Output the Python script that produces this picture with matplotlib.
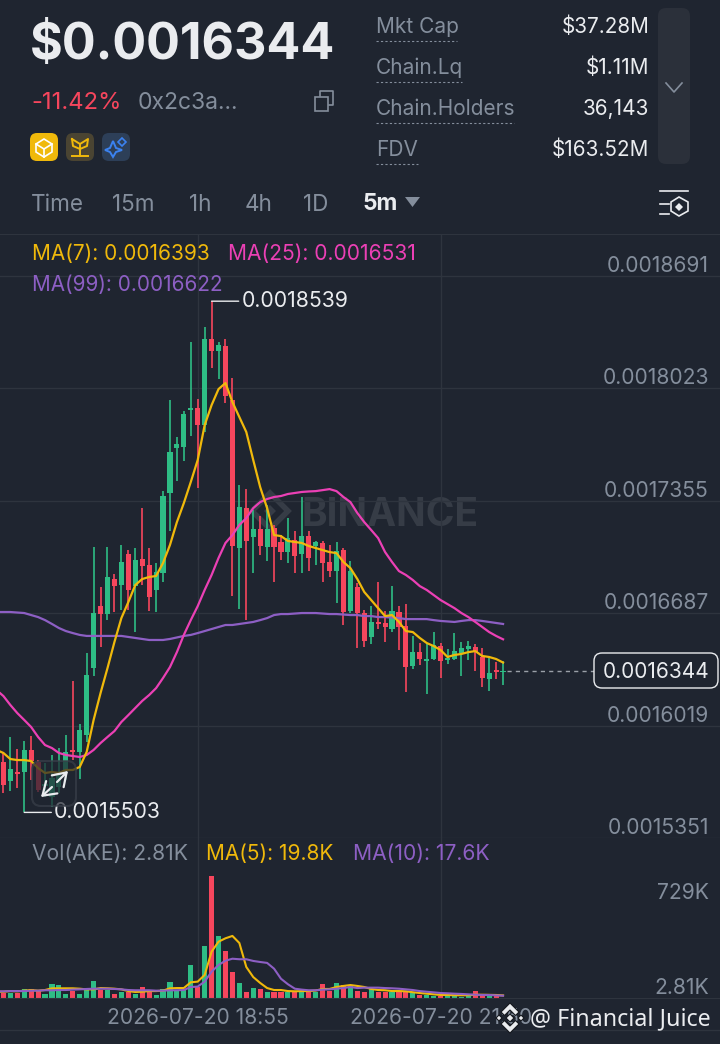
import matplotlib
matplotlib.use('Agg')
import numpy as np
import matplotlib.pyplot as plt
from matplotlib.patches import FancyBboxPatch, Polygon, Rectangle

plt.rcParams['font.family'] = ['Inter', 'DejaVu Sans']

# prices are in units of 1e-7 USD, 5m candles
opens = [15802,15689,15743,15743,15874,15802,15660,15594,15654,15755,
         15874,15862,15963,16360,16728,16681,16889,16853,17037,16847,
         17008,16972,16824,16925,17400,17667,17673,17892,17904,17803,
         18314,18243,18273,17952,17073,17310,17138,17186,17079,17192,
         17109,17049,17120,17037,17144,17085,17103,16990,16936,17061,
         16699,16841,16687,16545,16634,16628,16592,16693,16610,16372,
         16455,16402,16414,16491,16408,16414,16449,16473,16485,16426,
         16295,16349,16336]
highs = [15856,15951,15879,15927,15957,15814,15796,15844,15885,15963,
         16283,16028,16449,17079,16841,17079,16919,17091,17061,17073,
         17310,17073,16984,17411,17952,17732,17886,18296,17958,18385,
         18539,18296,18314,18083,17447,17423,17298,17263,17328,17210,
         17150,17251,17174,17376,17174,17115,17115,17091,17109,17073,
         16996,16865,16705,16728,16871,16699,16847,16728,16740,16551,
         16509,16509,16574,16509,16473,16568,16515,16521,16503,16479,
         16420,16396,16402]
lows = [15618,15630,15648,15503,15695,15624,15594,15535,15618,15695,
        15814,15701,15921,16313,16485,16645,16693,16705,16705,16574,
        16853,16699,16693,16871,17174,17471,17590,17738,17429,17762,
        18142,18077,17934,16788,16711,16645,16925,17032,16996,16871,
        17002,16984,16925,16925,16936,16972,16871,16901,16746,16616,
        16687,16479,16485,16503,16592,16515,16574,16467,16218,16354,
        16378,16206,16408,16301,16384,16408,16313,16408,16343,16248,
        16224,16295,16260]
closes = [15666,15761,15731,15874,15808,15636,15672,15707,15737,15862,
          15862,15992,16319,16687,16681,16901,16847,16990,16824,17002,
          16966,16782,16930,17382,17643,17691,17869,17904,17803,18314,
          18243,18279,17976,17085,17316,17115,17186,17085,17186,17079,
          17049,17132,17026,17144,17014,17109,16984,16936,17055,16693,
          16936,16687,16521,16634,16622,16604,16699,16604,16366,16455,
          16414,16414,16497,16402,16420,16461,16479,16491,16455,16301,
          16331,16337,16344]

# the moving averages start one candle earlier, off the left edge
ma7 = [15874,15856,15820,15814,15814,15808,15766,15737,15743,15737,15755,
       15755,15773,15862,16052,16212,16360,16515,16657,16752,16853,
       16889,16901,16907,16984,17091,17227,17340,17465,17596,17803,
       17922,18017,18053,17940,17851,17762,17596,17435,17310,17150,
       17144,17115,17109,17103,17085,17073,17061,17049,17043,16990,
       16954,16889,16812,16764,16716,16669,16675,16634,16580,16574,
       16539,16509,16491,16467,16426,16438,16444,16455,16461,16432,
       16426,16414,16393]
ma25 = [16230,16194,16141,16093,16052,16010,15951,15903,15885,15856,15844,
        15838,15832,15844,15874,15915,15951,15986,16040,16081,16123,
        16165,16200,16241,16301,16366,16455,16557,16645,16728,16824,
        16913,17014,17103,17150,17210,17251,17310,17346,17364,17376,
        17382,17394,17400,17406,17409,17411,17417,17423,17411,17376,
        17346,17281,17227,17180,17132,17049,16990,16936,16913,16883,
        16847,16824,16794,16764,16740,16716,16687,16663,16634,16604,
        16574,16551,16531]
ma99 = [16693,16693,16693,16690,16687,16675,16663,16645,16622,16598,16580,
        16568,16557,16551,16551,16551,16551,16551,16551,16545,16539,
        16533,16527,16527,16527,16533,16542,16551,16557,16568,16580,
        16592,16604,16616,16616,16622,16628,16634,16645,16657,16675,
        16681,16681,16684,16687,16687,16687,16684,16681,16681,16678,
        16675,16675,16669,16669,16663,16663,16660,16657,16651,16651,
        16651,16651,16645,16640,16637,16634,16640,16645,16645,16640,
        16634,16628,16622]

# volume in thousands
volumes = [38,38,38,69,69,53,31,107,99,27,
           53,31,61,130,61,61,31,46,46,31,
           84,53,23,69,122,53,61,252,84,397,
           932,474,359,199,115,46,76,69,46,46,
           46,46,53,46,46,46,107,53,115,99,
           92,53,46,69,46,46,46,46,46,38,
           23,23,19,19,15,15,11,15,53,23,
           15,15,2.81]
vol_ma5 = [48,48,53,51,56,61,56,61,74,74,74,
           74,71,66,66,76,74,71,66,53,46,
           48,53,53,56,74,76,76,120,125,176,
           354,430,456,474,420,237,160,115,76,61,
           61,53,51,53,53,57,69,69,84,92,
           99,92,84,69,61,59,53,53,51,44,
           38,33,28,23,23,21,21,21,25,25,
           24,23,19.8]
vol_ma10 = [51,51,53,53,53,56,56,59,59,61,61,
            64,66,69,71,71,71,69,66,61,59,
            59,59,56,56,59,59,61,84,87,125,
            201,252,285,300,296,296,283,275,268,224,
            147,105,71,64,59,59,64,66,71,76,
            84,76,79,79,79,76,74,71,66,61,
            53,48,43,38,36,33,31,28,25,23,
            23,20,17.6]

price_ticks = [15351,16019,16687,17355,18023,18691]
vol_ticks = [2.81,729]
vol_tick_labels = ['2.81K','729K']
date_ticks = [28,63]
date_labels = ['2026-07-20 18:55','2026-07-20 21:50']

stats_names = ['Mkt Cap','Chain.Lq','Chain.Holders','FDV']
stats_values = ['$37.28M','$1.11M','36,143','$163.52M']
periods = ['Time','15m','1h','4h','1D']

BG = '#1f2530'
GRID = '#2e343e'
GRAY = '#848e9c'
LIGHT = '#eaecef'
GREEN = '#2ebd85'
RED = '#f6465d'
YELLOW = '#f0b90b'
PINK = '#eb40b5'
PURPLE = '#8d5fc4'
MARK = '#363c46'

n = len(closes)
x = np.arange(n)
x_ma = np.arange(-1, n)
xlim = (-0.49, 103.26)
colors = [GREEN if c >= o else RED for o, c in zip(opens, closes)]
W, H = 720, 1044


def px_rect(left, top, right, bottom):
    return [left/W, 1-bottom/H, (right-left)/W, (bottom-top)/H]


def diamond(cx, cy, r):
    return [(cx, cy-r), (cx+r, cy), (cx, cy+r), (cx-r, cy)]


fig = plt.figure(figsize=(7.2, 10.44), dpi=100, facecolor=BG)

# layer in pixel coordinates for the app chrome around the chart
ui = fig.add_axes([0, 0, 1, 1], zorder=3)
ui.set_xlim(0, W)
ui.set_ylim(H, 0)
ui.axis('off')
ui.patch.set_alpha(0)

# price panel
ax = fig.add_axes(px_rect(0, 234, W, 838), zorder=1)
ax.set_facecolor('none')
ax.set_xlim(*xlim)
ax.set_ylim(15351, 18938)
ax.text(301, 516, 'BINANCE', transform=ui.transData, fontsize=28, fontweight='bold',
        color=MARK, va='center', ha='left', zorder=0.5)
ax.add_patch(Polygon(diamond(270, 511, 18), closed=True, transform=ui.transData,
                     fc='none', ec=MARK, lw=4, zorder=0.5))
ax.add_patch(Polygon(diamond(270, 511, 6), closed=True, transform=ui.transData,
                     fc=MARK, ec='none', zorder=0.5))
ax.vlines(x, lows, highs, colors=colors, lw=1.2, zorder=2)
ax.bar(x, np.abs(np.array(closes)-np.array(opens)), bottom=np.minimum(opens, closes),
       width=0.74, color=colors, linewidth=0, zorder=2)
ax.plot(x_ma, ma99, color=PURPLE, lw=1.6, zorder=3)
ax.plot(x_ma, ma25, color=PINK, lw=1.6, zorder=3)
ax.plot(x_ma, ma7, color=YELLOW, lw=1.6, zorder=4)
ax.plot([72.5, 85.1], [closes[-1], closes[-1]], color='#9aa0a8', lw=1, ls=(0, (3, 3)), zorder=2)

ax.set_xticks(date_ticks)
ax.set_xticklabels([])
ax.yaxis.tick_right()
ax.set_yticks(price_ticks)
ax.set_yticklabels([f'{v/1e7:.7f}' for v in price_ticks], fontsize=15.2, color=GRAY)
ax.tick_params(axis='both', length=0)
ax.tick_params(axis='y', pad=-8)
for lab in ax.get_yticklabels():
    lab.set_ha('right')
    lab.set_va('bottom')
ax.grid(True, color=GRID, lw=1)
ax.set_axisbelow(True)
for side, sp in ax.spines.items():
    sp.set_visible(side == 'top')
    sp.set_color(GRID)

i_hi = int(np.argmax(highs))
i_lo = int(np.argmin(lows))
ax.annotate(f'{highs[i_hi]/1e7:.7f}', xy=(i_hi, highs[i_hi]), xytext=(21.5, 0),
            textcoords='offset points', va='center', ha='left', color=LIGHT, fontsize=15.3,
            arrowprops=dict(arrowstyle='-', color=LIGHT, lw=1, shrinkA=0, shrinkB=0), zorder=5)
ax.annotate(f'{lows[i_lo]/1e7:.7f}', xy=(i_lo, lows[i_lo]), xytext=(21.5, 0),
            textcoords='offset points', va='center', ha='left', color=LIGHT, fontsize=15.3,
            arrowprops=dict(arrowstyle='-', color=LIGHT, lw=1, shrinkA=0, shrinkB=0), zorder=5)

# volume panel
axv = fig.add_axes(px_rect(0, 838, W, 998), zorder=1)
axv.set_facecolor('none')
axv.set_xlim(*xlim)
axv.set_ylim(0, 1222)
axv.bar(x, volumes, width=0.74, color=colors, linewidth=0, zorder=2)
axv.plot(x_ma, vol_ma5, color=YELLOW, lw=1.5, zorder=3)
axv.plot(x_ma, vol_ma10, color=PURPLE, lw=1.5, zorder=4)
axv.set_xticks(date_ticks)
axv.set_xticklabels(date_labels, fontsize=15.1, color=GRAY)
axv.yaxis.tick_right()
axv.set_yticks(vol_ticks)
axv.set_yticklabels(vol_tick_labels, fontsize=15.2, color=GRAY)
axv.tick_params(axis='both', length=0)
axv.tick_params(axis='x', pad=7)
axv.tick_params(axis='y', pad=-8)
for lab in axv.get_yticklabels():
    lab.set_ha('right')
    lab.set_va('bottom')
axv.grid(True, axis='x', color=GRID, lw=1)
axv.set_axisbelow(True)
for side, sp in axv.spines.items():
    sp.set_visible(side == 'bottom')
    sp.set_color(GRID)

# header
ui.text(29.5, 46, '$0.0016344', fontsize=36.2, fontweight='bold', color=LIGHT, va='center')
ui.text(31, 103, '-11.42%', fontsize=17.2, color=RED, va='center')
ui.text(138, 103, '0x2c3a...', fontsize=16.5, color=GRAY, va='center')
ui.add_patch(Rectangle((315, 97), 13, 14, fc='none', ec=GRAY, lw=1.2))
ui.plot([320, 320, 333, 333, 329], [96, 91, 91, 105, 105], color=GRAY, lw=1.2)

# little badges
badges = [(30, YELLOW), (66, '#4a4432'), (102, '#2d3f58')]
for bx, bc in badges:
    ui.add_patch(FancyBboxPatch((bx+4, 137), 20, 20, boxstyle='round,pad=4,rounding_size=7',
                                fc=bc, ec='none'))
ui.add_patch(Polygon([(44, 139), (52, 144), (52, 152), (44, 157), (36, 152), (36, 144)],
                     closed=True, fc='none', ec='white', lw=1.2))
ui.plot([36, 44, 52], [144, 149, 144], color='white', lw=1.2)
ui.plot([44, 44], [149, 157], color='white', lw=1.2)
ui.plot([80, 80], [145, 156], color=YELLOW, lw=1.4)
ui.plot([72, 88], [156, 156], color=YELLOW, lw=1.4)
ui.plot([72, 73, 80, 87, 88, 80, 72], [139, 146, 149, 146, 139, 144, 139], color=YELLOW, lw=1.4)
ui.add_patch(Polygon([(113, 141), (116, 148), (122, 150), (116, 152), (113, 157), (110, 152), (105, 150), (110, 148)],
                     closed=True, fc='none', ec='#3b82f0', lw=1.4))
ui.add_patch(Polygon(diamond(122, 142, 4), closed=True, fc='none', ec='#3b82f0', lw=1.2))

# stats block
for k, (name, val) in enumerate(zip(stats_names, stats_values)):
    yy = 27+41*k
    ui.text(376, yy, name, fontsize=15, color=GRAY, va='center')
    ui.text(649.5, yy, val, fontsize=14.9, color=LIGHT, va='center', ha='right')
for right, yy in zip([457, 462, 514, 418], [40.5, 81.5, 122.5, 163.5]):
    ui.plot([376, right], [yy, yy], color=GRAY, lw=0.8, ls=(0, (2, 2)))
ui.add_patch(FancyBboxPatch((664, 14), 20, 144, boxstyle='round,pad=6,rounding_size=8',
                            fc='#2b303a', ec='none'))
ui.plot([666, 674, 682], [83, 92, 83], color=GRAY, lw=1.2)

# period selector
for name, px in zip(periods, [31, 112, 189, 245, 303]):
    ui.text(px, 205, name, fontsize=16.2, color=GRAY, va='center')
ui.text(363, 204, '5m', fontsize=16.4, fontweight='bold', color=LIGHT, va='center')
ui.add_patch(Polygon([(405, 197), (420, 197), (412.5, 207)], closed=True, fc=GRAY, ec='none'))
ui.plot([660, 688], [191, 191], color=LIGHT, lw=1.2)
ui.plot([660, 669], [204, 204], color=LIGHT, lw=1.2)
ui.plot([660, 669], [214, 214], color=LIGHT, lw=1.2)
ui.add_patch(Polygon([(679, 197), (688, 202), (688, 211), (679, 216), (671, 211), (671, 202)],
                     closed=True, fc='none', ec=LIGHT, lw=1.2))
ui.add_patch(Polygon(diamond(679, 207, 4), closed=True, fc=LIGHT, ec='none'))

# legends
ui.text(32, 254, 'MA(7): 0.0016393', fontsize=15, color=YELLOW, va='center')
ui.text(228, 254, 'MA(25): 0.0016531', fontsize=15.1, color=PINK, va='center')
ui.text(32, 285, 'MA(99): 0.0016622', fontsize=14.9, color=PURPLE, va='center')
ui.text(32, 854, 'Vol(AKE): 2.81K', fontsize=15.2, color=GRAY, va='center')
ui.text(206, 854, 'MA(5): 19.8K', fontsize=15, color=YELLOW, va='center')
ui.text(353, 854, 'MA(10): 17.6K', fontsize=15.2, color=PURPLE, va='center')

# last price box
ui.add_patch(FancyBboxPatch((599, 658), 114, 25, boxstyle='round,pad=5,rounding_size=8',
                            fc=BG, ec=LIGHT, lw=1))
ui.text(656, 672, f'{closes[-1]/1e7:.7f}', fontsize=15, color=LIGHT, va='center', ha='center')

# expand button
ui.add_patch(FancyBboxPatch((38, 767), 32, 33, boxstyle='round,pad=6,rounding_size=9',
                            fc=BG, ec='#3a404a', lw=1.5, alpha=0.7))
arrow = dict(arrowstyle='->,head_length=0.45,head_width=0.3', mutation_scale=20, color=LIGHT,
             lw=1.6, shrinkA=0, shrinkB=0)
ui.annotate('', xy=(41, 797), xytext=(52, 787), arrowprops=arrow)
ui.annotate('', xy=(68, 771), xytext=(57, 782), arrowprops=arrow)

# bottom strip and footer watermark
ui.plot([0, W], [1030, 1030], color=GRID, lw=1)
logo = [[(510, 1003), (519, 1012), (515.5, 1015.5), (510, 1010), (504.5, 1015.5), (501, 1012)],
        [(510, 1033), (519, 1024), (515.5, 1020.5), (510, 1026), (504.5, 1020.5), (501, 1024)],
        diamond(510, 1018, 4), diamond(499, 1018, 3), diamond(521, 1018, 3)]
for pts in logo:
    ui.add_patch(Polygon(pts, closed=True, fc=LIGHT, ec='#15181d', lw=0.8, zorder=6))
ui.text(530, 1019, '@ Financial Juice', fontsize=16.8, color=LIGHT, va='center',
        family=['Noto Sans', 'DejaVu Sans'], zorder=6)

fig.savefig('out.png', dpi=100, facecolor=BG)
